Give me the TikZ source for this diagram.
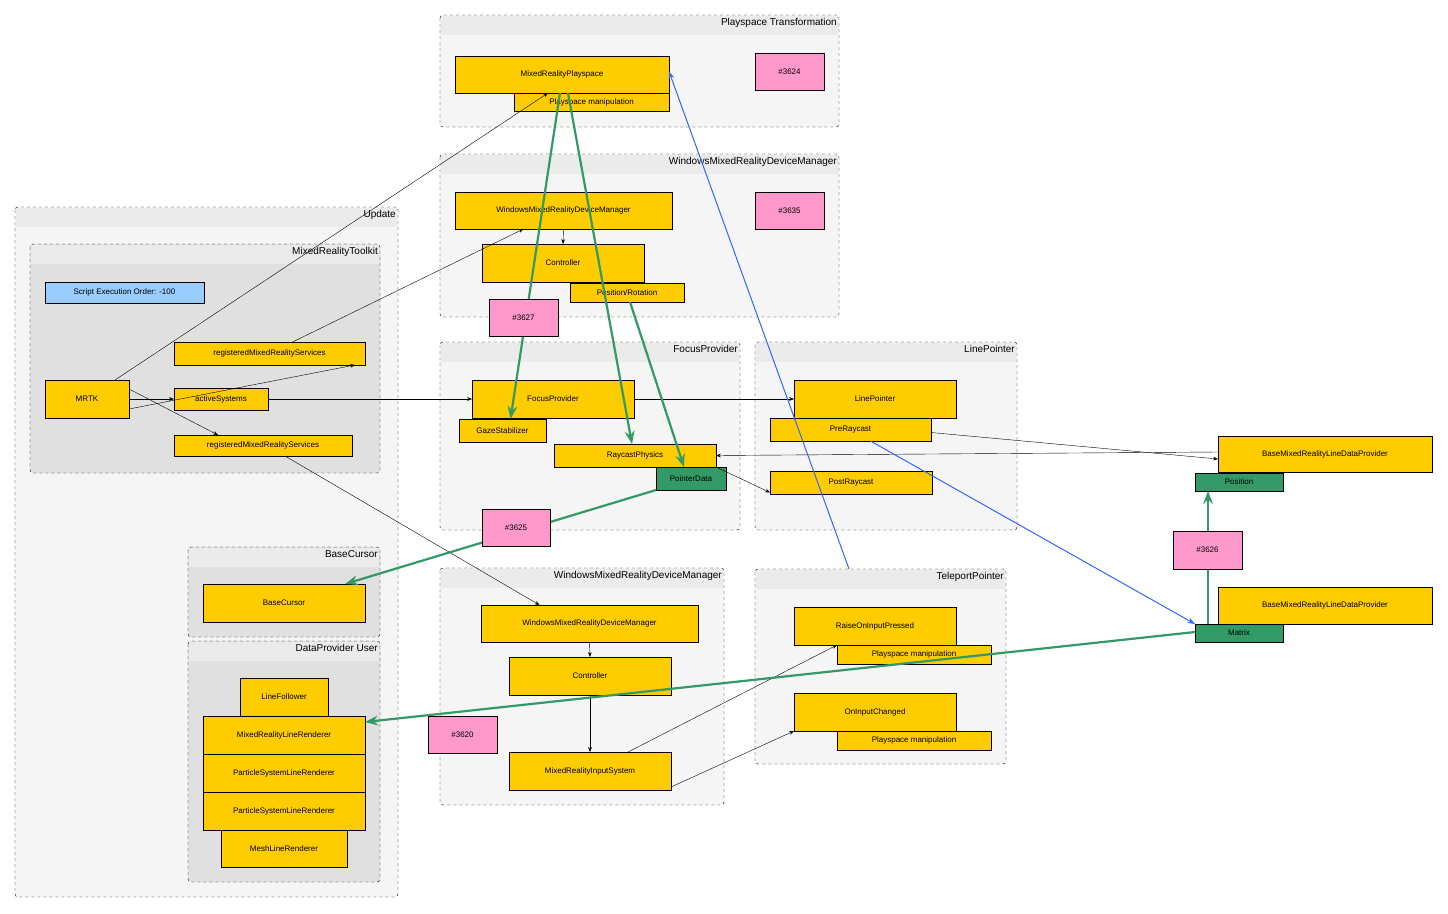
\documentclass[tikz,border=0pt]{standalone}
\usepackage{fontspec}
\setmainfont{Liberation Sans}
\usetikzlibrary{arrows.meta}
\definecolor{amber}{HTML}{FFCC00}
\definecolor{sea}{HTML}{339966}
\definecolor{rosa}{HTML}{FF99CC}
\definecolor{sky}{HTML}{99CCFF}
\definecolor{azul}{HTML}{3366FF}
\definecolor{bodyA}{HTML}{F5F5F5}
\definecolor{bodyB}{HTML}{E0E0E0}
\definecolor{head}{HTML}{EBEBEB}
\tikzset{
  box/.style={draw=black, fill=amber, inner sep=0pt, outer sep=0pt, font=\fontsize{8}{9}\selectfont},
  note/.style={box, fill=rosa},
  data/.style={box, fill=sea},
  flow/.style={->, black, thin},
  green/.style={->, sea, line width=2.2pt},
  blueline/.style={->, azul, line width=1pt},
}
\newcommand{\grp}[6]{%
  \fill[#6, rounded corners=3pt] (#1,#2) rectangle (#3,#4);
  \fill[head] (#1+1,#2+1) rectangle (#3-1,#2+20);
  \draw[dashed, rounded corners=3pt] (#1,#2) rectangle (#3,#4);
  \node[anchor=north east, inner sep=1pt, font=\fontsize{10}{11}\selectfont] at (#3-1,#2+2) {#5};}
\begin{document}
\begin{tikzpicture}[>=Stealth, x=1pt, y=-1pt]
  \useasboundingbox (0,0) rectangle (1448,913);
  % Grupos
  \grp{440}{15}{839}{127}{Playspace Transformation}{bodyA}
  \grp{440}{154}{839}{317}{WindowsMixedRealityDeviceManager}{bodyA}
  \grp{15}{207}{398}{897}{Update}{bodyA}
  \grp{30}{244}{380}{473}{MixedRealityToolkit}{bodyB}
  \grp{440}{342}{740}{530}{FocusProvider}{bodyA}
  \grp{755}{342}{1017}{530}{LinePointer}{bodyA}
  \grp{188}{547}{380}{637}{BaseCursor}{bodyB}
  \grp{188}{641}{380}{882}{DataProvider User}{bodyB}
  \grp{440}{568}{724}{805}{WindowsMixedRealityDeviceManager}{bodyA}
  \grp{755}{569}{1006}{764}{TeleportPointer}{bodyA}

  % Nos
  \node[box, minimum width=214, minimum height=37] (mrp) at (562,74.5) {MixedRealityPlayspace};
  \node[box, minimum width=155, minimum height=18] (pm1) at (591.5,102) {Playspace manipulation};
  \node[box, minimum width=217, minimum height=37] (wmrdm) at (563.5,210.5) {WindowsMixedRealityDeviceManager};
  \node[box, minimum width=162, minimum height=38] (ctrl) at (563,263) {Controller};
  \node[box, minimum width=114, minimum height=19] (posrot) at (627,292.5) {Position/Rotation};
  \node[box, fill=sky, minimum width=159, minimum height=21] (seo) at (124.5,292.5) {Script Execution Order: -100};
  \node[box, minimum width=84, minimum height=38] (mrtk) at (87,399) {MRTK};
  \node[box, minimum width=191, minimum height=23] (reg1) at (269.5,353.5) {registeredMixedRealityServices};
  \node[box, minimum width=94, minimum height=22] (act) at (221,399) {activeSystems};
  \node[box, minimum width=178, minimum height=21] (reg2) at (263,445.5) {registeredMixedRealityServices};
  \node[box, minimum width=162, minimum height=38] (fp) at (553,399) {FocusProvider};
  \node[box, minimum width=87, minimum height=23] (gaze) at (502.5,430.5) {GazeStabilizer};
  \node[box, minimum width=162, minimum height=23] (rp) at (635,455.5) {RaycastPhysics};
  \node[data, minimum width=70, minimum height=23] (pd) at (691,478.5) {PointerData};
  \node[box, minimum width=162, minimum height=38] (lp) at (875,399) {LinePointer};
  \node[box, minimum width=161, minimum height=23] (pre) at (850.5,429.5) {PreRaycast};
  \node[box, minimum width=162, minimum height=23] (post) at (851,482.5) {PostRaycast};
  \node[box, minimum width=214, minimum height=36] (ldp1) at (1325,454) {BaseMixedRealityLineDataProvider};
  \node[data, minimum width=88, minimum height=18] (pos) at (1239,482) {Position};
  \node[box, minimum width=214, minimum height=37] (ldp2) at (1325,605.5) {BaseMixedRealityLineDataProvider};
  \node[data, minimum width=88, minimum height=18] (mat) at (1239,633) {Matrix};
  \node[box, minimum width=162, minimum height=38] (bc) at (284,603) {BaseCursor};
  \node[box, minimum width=217, minimum height=37] (wmrdm2) at (589.5,623.5) {WindowsMixedRealityDeviceManager};
  \node[box, minimum width=162, minimum height=38] (ctrl2) at (590,676) {Controller};
  \node[box, minimum width=162, minimum height=38] (mris) at (590,771) {MixedRealityInputSystem};
  \node[box, minimum width=162, minimum height=38] (raise) at (875,626) {RaiseOnInputPressed};
  \node[box, minimum width=154, minimum height=19] (pm2) at (914,654.5) {Playspace manipulation};
  \node[box, minimum width=162, minimum height=38] (oic) at (875,712) {OnInputChanged};
  \node[box, minimum width=154, minimum height=19] (pm3) at (914,740.5) {Playspace manipulation};
  \node[box, minimum width=88, minimum height=38] (lf) at (284,697) {LineFollower};
  \node[box, minimum width=162, minimum height=38] (mlr) at (284,735) {MixedRealityLineRenderer};
  \node[box, minimum width=162, minimum height=38] (psl1) at (284,773) {ParticleSystemLineRenderer};
  \node[box, minimum width=162, minimum height=38] (psl2) at (284,811) {ParticleSystemLineRenderer};
  \node[box, minimum width=126, minimum height=37] (mesh) at (284,848.5) {MeshLineRenderer};
  \coordinate (tpTop) at (849,569);

  % Ligacoes
  \draw[flow] ([xshift=28]mrtk.north) -- ([xshift=-14]mrp.south);
  \draw[flow] ([xshift=23]reg1.north) -- ([xshift=-40]wmrdm.south);
  \draw[flow] ([yshift=-10]mrtk.east) -- ([xshift=-10]reg1.south east);
  \draw[flow] (mrtk.east) -- (act.west);
  \draw[flow] ([yshift=10]mrtk.east) -- ([xshift=-45]reg2.north);
  \draw[flow] (act.east) -- (fp.west);
  \draw[flow] ([xshift=22]reg2.south) -- ([xshift=-50]wmrdm2.north);
  \draw[flow] (wmrdm.south) -- (ctrl.north);
  \draw[flow] (fp.east) -- (lp.west);
  \draw[flow] ([yshift=-3]pre.east) -- ([yshift=-5]ldp1.west);
  \draw[flow] ([yshift=2]ldp1.west) -- (rp.east);
  \draw[flow] (rp.south east) -- ([yshift=-10]post.west);
  \draw[flow] (wmrdm2.south) -- (ctrl2.north);
  \draw[flow] (ctrl2.south) -- (mris.north);
  \draw[flow] ([xshift=38]mris.north) -- ([xshift=-38]raise.south);
  \draw[flow] ([yshift=-16]mris.east) -- ([yshift=-19]oic.west);
  \draw[green] ([xshift=-2]mrp.south) -- ([xshift=8]gaze.north);
  \draw[green] ([xshift=6]mrp.south) -- ([xshift=-3]rp.north);
  \draw[green] ([xshift=3]posrot.south) -- ([xshift=-7]pd.north);
  \draw[green] (pd.south west) -- ([xshift=61]bc.north);
  \draw[green] ([xshift=-31]mat.north) -- ([xshift=-31]pos.south);
  \draw[green] ([yshift=1]mat.west) -- ([yshift=13]mlr.east);
  \draw[blueline] (tpTop) -- ([yshift=3]mrp.east);
  \draw[blueline] ([xshift=20]pre.south) -- (mat.north west);

  % Notas
  \node[note, minimum width=69, minimum height=37] (n3624) at (789.5,71.5) {\#3624};
  \node[note, minimum width=69, minimum height=37] (n3635) at (789.5,210.5) {\#3635};
  \node[note, minimum width=69, minimum height=37] (n3627) at (523.5,317.5) {\#3627};
  \node[note, minimum width=69, minimum height=38] (n3626) at (1207.5,550) {\#3626};
  \node[note, minimum width=68, minimum height=37] (n3625) at (516,527.5) {\#3625};
  \node[note, minimum width=69, minimum height=37] (n3620) at (462.5,734.5) {\#3620};
\end{tikzpicture}
\end{document}
